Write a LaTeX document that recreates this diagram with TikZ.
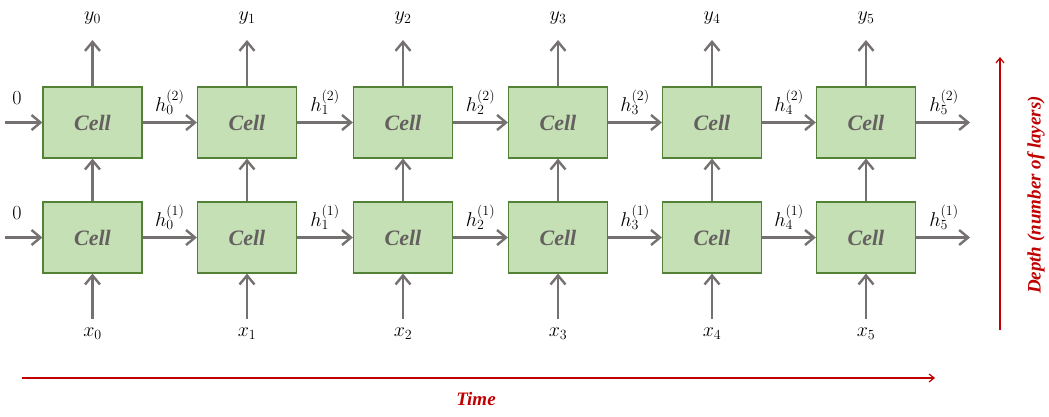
\documentclass[tikz,border=0pt]{standalone}
\usepackage{fix-cm}
\usepackage{fontspec}
\setmainfont{Liberation Serif}
\usetikzlibrary{arrows.meta,calc}
\definecolor{cg}{HTML}{C5E0B4}
\definecolor{cb}{HTML}{538135}
\definecolor{ag}{HTML}{767171}
\definecolor{rd}{HTML}{C00000}
\begin{document}
\begin{tikzpicture}[x=1pt,y=-1pt,
 cell/.style={draw=cb,fill=cg,line width=1.2pt,minimum width=99pt,minimum height=71pt,inner sep=0pt,
   font=\fontsize{22}{26}\selectfont\bfseries\itshape,text=ag!85!black},
 ar/.style={draw=ag,line width=2.6pt,-{Straight Barb[length=9pt,width=15pt,line width=2.4pt]}},
 ra/.style={draw=rd,line width=1.2pt,-{Straight Barb[length=5pt,width=8pt]}},
 lb/.style={font=\fontsize{20}{24}\selectfont,inner sep=0pt},
 rl/.style={text=rd,font=\fontsize{19}{22}\selectfont\bfseries\itshape,inner sep=0pt}]
\useasboundingbox (0,0) rectangle (1049,416);
\foreach \i/\x in {0/92.5,1/247,2/403,3/558,4/712,5/866}{
  \node[cell] (t\i) at (\x,122.5) {Cell};
  \node[cell] (b\i) at (\x,237.5) {Cell};
  \coordinate (yo\i) at (\x,40);
  \coordinate (xi\i) at (\x,319);
  \node[lb] (yl\i) at (\x,18) {$y_{\i}$};
  \node[lb] (xl\i) at (\x,334) {$x_{\i}$};
  \draw[ar] (t\i.north) -- (yo\i);
  \draw[ar] (xi\i) -- (b\i.south);
  \draw[ar] (b\i.north) -- (t\i.south);
}
\foreach \i/\j in {0/1,1/2,2/3,3/4,4/5}{
  \draw[ar] (t\i.east) -- (t\j.west);
  \draw[ar] (b\i.east) -- (b\j.west);
  \node[lb] (ht\i) at ($(t\i.east)!0.5!(t\j.west)+(0,-20)$) {$h_{\i}^{(2)}$};
  \node[lb] (hb\i) at ($(b\i.east)!0.5!(b\j.west)+(0,-20)$) {$h_{\i}^{(1)}$};
}
\coordinate (te) at (970,122.5);
\coordinate (be) at (970,237.5);
\draw[ar] (t5.east) -- (te);
\draw[ar] (b5.east) -- (be);
\node[lb] (ht5) at (944,102.5) {$h_{5}^{(2)}$};
\node[lb] (hb5) at (944,217.5) {$h_{5}^{(1)}$};
\coordinate (ts) at (5,122.5);
\coordinate (bs) at (5,237.5);
\draw[ar] (ts) -- (t0.west);
\draw[ar] (bs) -- (b0.west);
\node[lb] (z2) at (17,98) {$0$};
\node[lb] (z1) at (17,213) {$0$};
\coordinate (tm0) at (22,378);
\coordinate (tm1) at (935,378);
\draw[ra] (tm0) -- (tm1);
\node[rl] (tml) at (476,399) {Time};
\coordinate (dp0) at (1000,330);
\coordinate (dp1) at (1000,57);
\draw[ra] (dp0) -- (dp1);
\node[rl,rotate=90] (dpl) at (1036,195) {Depth (number of layers)};
\end{tikzpicture}
\end{document}
